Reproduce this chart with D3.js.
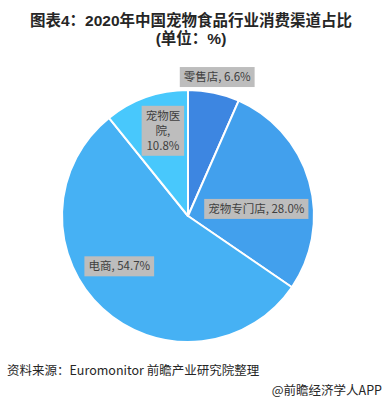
<!DOCTYPE html>
<html>
<head>
<meta charset="utf-8">
<script src="https://cdn.jsdelivr.net/npm/d3@7"></script>
<style>
  html, body { margin: 0; padding: 0; background: #fff; }
  svg { display: block; }
</style>
</head>
<body>
<div id="chart"></div>
<script>
// data
const categories = ['零售店', '宠物专门店', '电商', '宠物医院']
const shares = [6.6, 28.0, 54.7, 10.8]
const sliceColors = ['#3d86e1', '#42a0ed', '#46b1f4', '#48c8fc']

const titleLines = ['图表4：2020年中国宠物食品行业消费渠道占比', '(单位：%)']
const sourceText = '资料来源：Euromonitor 前瞻产业研究院整理'
const creditText = '@前瞻经济学人APP'

// label placement (radius as fraction of pie radius, nudge in degrees, wrap width)
const labelLayout = [
  { r: 1.127, nudge: 0, wrap: Infinity },
  { r: 0.545, nudge: 10, wrap: Infinity },
  { r: 0.676, nudge: 11, wrap: Infinity },
  { r: 0.705, nudge: 3, wrap: 40 }
]

const width = 383
const height = 403
const cx = 188
const cy = 216
const radius = 126
const cjk = '"Noto Sans CJK SC", "Noto Sans", sans-serif'
const titleFont = '"Liberation Sans", "Noto Sans CJK SC", sans-serif'

const svg = d3.select('#chart')
  .append('svg')
  .attr('width', width)
  .attr('height', height)
  .attr('viewBox', [0, 0, width, height])

// Title
svg.append('g')
  .selectAll('text')
  .data(titleLines)
  .join('text')
  .attr('x', 191)
  .attr('y', (d, i) => 26 + i * 17.5)
  .attr('text-anchor', 'middle')
  .attr('fill', '#262626')
  .attr('font-size', '15.5px')
  .attr('font-weight', '700')
  .attr('font-family', titleFont)
  .text(d => d)

// Pie
const pie = d3.pie().sort(null).value(d => d)
const arcs = pie(shares)
const arc = d3.arc().innerRadius(0).outerRadius(radius)

const g = svg.append('g').attr('transform', `translate(${cx},${cy})`)

g.selectAll('path')
  .data(arcs)
  .join('path')
  .attr('d', arc)
  .attr('fill', (d, i) => sliceColors[i])
  .attr('stroke', '#fff')
  .attr('stroke-width', 2)
  .attr('stroke-linejoin', 'round')

// Labels
const labelFont = 11.5
const lineH = 15

const measure = svg.append('text')
  .attr('font-size', labelFont + 'px')
  .attr('font-family', cjk)
  .attr('visibility', 'hidden')
const textWidth = s => { measure.text(s); return measure.node().getComputedTextLength() }

const wrapText = (str, maxW) => {
  if (textWidth(str) <= maxW) return [str]
  // CJK chars split one by one, latin runs kept together
  const tokens = str.match(/[\u4e00-\u9fff]|,|\s+|[^\s,\u4e00-\u9fff]+/g)
  const lines = []
  let cur = ''
  tokens.forEach(t => {
    const next = cur + t
    if (cur && textWidth(next.trim()) > maxW && t.trim() !== ',') {
      lines.push(cur.trim())
      cur = t.trim()
    } else {
      cur = next
    }
  })
  if (cur.trim()) lines.push(cur.trim())
  return lines
}

const labels = g.append('g')
  .selectAll('g')
  .data(arcs)
  .join('g')
  .attr('transform', (d, i) => {
    const lay = labelLayout[i]
    const a = (d.startAngle + d.endAngle) / 2 + lay.nudge * Math.PI / 180
    const r = radius * lay.r
    return `translate(${r * Math.sin(a)},${-r * Math.cos(a)})`
  })

labels.each(function(d, i) {
  const el = d3.select(this)
  const str = `${categories[i]}, ${shares[i].toFixed(1)}%`
  const lines = wrapText(str, labelLayout[i].wrap)
  const w = d3.max(lines, textWidth)
  const h = lines.length * lineH
  el.append('rect')
    .attr('x', -w / 2 - 4)
    .attr('y', -h / 2 - 2.5)
    .attr('width', w + 8)
    .attr('height', h + 5)
    .attr('fill', '#bdbdbd')
  el.selectAll('text')
    .data(lines)
    .join('text')
    .attr('x', 0)
    .attr('y', (l, k) => -h / 2 + lineH * k + lineH / 2)
    .attr('dy', '0.36em')
    .attr('text-anchor', 'middle')
    .attr('fill', '#404040')
    .attr('font-size', labelFont + 'px')
    .attr('font-family', cjk)
    .text(l => l)
})

measure.remove()

// Footer
svg.append('text')
  .attr('x', 7)
  .attr('y', 375)
  .attr('fill', '#262626')
  .attr('font-size', '12.5px')
  .attr('font-family', cjk)
  .text(sourceText)

svg.append('text')
  .attr('x', 382)
  .attr('y', 395)
  .attr('text-anchor', 'end')
  .attr('fill', '#262626')
  .attr('font-size', '12.5px')
  .attr('font-family', cjk)
  .text(creditText)
</script>
</body>
</html>
